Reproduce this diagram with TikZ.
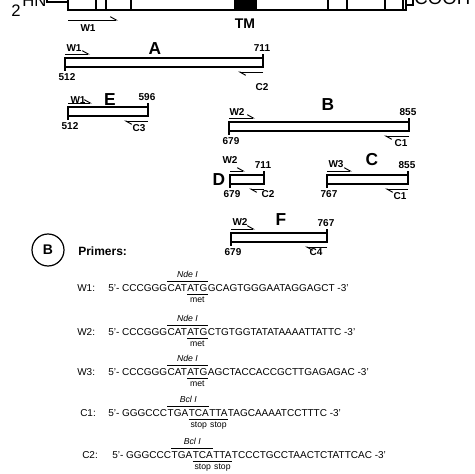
\documentclass[tikz,border=0pt]{standalone}
\usepackage{fontspec}
\setmainfont{Liberation Sans}
\usetikzlibrary{arrows.meta}

\begin{document}
\begin{tikzpicture}[x=0.75pt, y=-0.75pt,
    bar/.style={draw, line width=0.9pt},
    primer/.style={line width=0.7pt, -{Straight Barb[left, length=4.5pt, width=5pt]}},
    num/.style={inner sep=0, font=\fontsize{7.5}{9}\selectfont\bfseries},
    frag/.style={inner sep=0, font=\fontsize{13}{15}\selectfont\bfseries},
    seq/.style={inner sep=0, anchor=base west, font=\fontsize{7.5}{9}\selectfont},
    site/.style={inner sep=0, font=\fontsize{6.5}{8}\selectfont\itshape},
    codon/.style={inner sep=0, font=\fontsize{6.5}{8}\selectfont},
    siteline/.style={line width=0.6pt}]

    % Define the frame
    \useasboundingbox (0,0) rectangle (474,474);
    \clip (0,0) rectangle (474,474);

    % The protein
    \draw[bar] (68,-8) rectangle (406,10);
    \foreach \x in {96,106,131,328,347,385,403}
      \draw[bar] (\x,-8) -- (\x,10);
    \fill (234,-8) rectangle (257,10);
    \draw[bar] (47,-8) rectangle (68,2);
    \draw[bar] (406,-8) rectangle (413,5);

    \node[inner sep=0, anchor=base west, font=\fontsize{12.5}{14}\selectfont] (two) at (11,17) {2};
    \node[inner sep=0, anchor=base west, font=\fontsize{12.5}{14}\selectfont] (nterm) at (22,7) {HN};
    \node[inner sep=0, anchor=base west, font=\fontsize{14}{16}\selectfont] (cterm) at (414,5) {COOH};
    \node[inner sep=0, font=\fontsize{10.5}{12}\selectfont\bfseries] (tm) at (245,24) {TM};

    \coordinate (W1s) at (68,20);
    \coordinate (W1e) at (118,20);
    \draw[primer] (W1s) -- (W1e);
    \node[num] (W1top) at (88,28) {W1};

    % The fragments
    \foreach \f/\xl/\xr/\yt/\lw/\lc/\lo/\hi in {A/65/263/58/25/25/512/711,
        E/68/148/107/24/24/512/596, B/229/409/122/26/25/679/855,
        D/230/264/175/15/15/679/711, C/327/408/175/25/23/767/855,
        F/231/327/233/24/22/679/767}
    {
      \draw[bar] (\xl,\yt) rectangle (\xr,\yt+9);
      \draw[bar] (\xl,\yt+9) -- (\xl,\yt+13);
      \draw[bar] (\xr,\yt) -- (\xr,\yt-4);
      \coordinate (\f-w) at (\xl,\yt-4);
      \coordinate (\f-c) at (\xr,\yt+14);
      \draw[primer] (\f-w) -- ++(\lw,0);
      \draw[primer] (\f-c) -- ++(-\lc,0);
      \node[num] (\f-lo) at (\xl+2,\yt+19) {\lo};
      \node[num] (\f-hi) at (\xr-1,\yt-9.5) {\hi};
    }

    % Label the fragments
    \foreach \f/\x/\y in {A/155/49, E/110/100, B/328/105, D/219/180, C/372/160, F/281/220}
      \node[frag] (frag\f) at (\x,\y) {\f};

    \foreach \nm/\txt/\x/\y in {Aw/W1/74/48, Ac/C2/262/87, Ew/W1/78/100, Ec/C3/139/128,
        Bw/W2/237/112, Bc/C1/401/143, Dw/W2/230/160, Dc/C2/268/194,
        Cw/W3/336/164, Cc/C1/400/196, Fw/W2/240/222, Fc/C4/316/252}
      \node[num] (\nm) at (\x,\y) {\txt};

    % Part B
    \node[circle, draw, line width=0.9pt, minimum size=24pt, inner sep=0,
      font=\fontsize{10.5}{12}\selectfont\bfseries] (partB) at (48,250) {B};
    \node[inner sep=0, anchor=base west, font=\fontsize{9}{11}\selectfont\bfseries] (primers) at (78,255) {Primers:};

    % Forward primers
    \foreach \r/\y/\post in {W1/291.6/GCAGTGGGAATAGGAGCT, W2/335.6/CTGTGGTATATAAAATTATTC,
        W3/375.6/AGCTACCACCGCTTGAGAGAC}
    {
      \node[seq] (\r-name) at (77,\y) {\r:};
      \node[seq] (\r-a) at (108,\y) {5'- CCCGGG};
      \node[seq] (\r-b) at (\r-a.base east) {CAT};
      \node[seq] (\r-c) at (\r-b.base east) {ATG};
      \node[seq] (\r-d) at (\r-c.base east) {\post\ -3'};
      \draw[siteline] ([yshift=2pt]\r-b.north west) -- ([yshift=2pt]\r-c.north east)
        node[site, midway, above=2.5pt] (\r-nde) {Nde I};
      \draw[siteline] ([yshift=-2pt]\r-c.base west) -- ([yshift=-2pt]\r-c.base east)
        node[codon, midway, below=2pt] (\r-met) {met};
    }

    % Reverse primers
    \foreach \r/\x/\s/\y/\post in {C1/80/108/416.6/TAGCAAAATCCTTTC,
        C2/82/112/458.6/TCCCTGCCTAACTCTATTCAC}
    {
      \node[seq] (\r-name) at (\x,\y) {\r:};
      \node[seq] (\r-a) at (\s,\y) {5'- GGGCCC};
      \node[seq] (\r-b) at (\r-a.base east) {TGA};
      \node[seq] (\r-c) at (\r-b.base east) {TCA};
      \node[seq] (\r-d) at (\r-c.base east) {TTA};
      \node[seq] (\r-e) at (\r-d.base east) {\post\ -3'};
      \draw[siteline] ([yshift=2pt]\r-b.north west) -- ([yshift=2pt]\r-c.north east)
        node[site, midway, above=2.5pt] (\r-bcl) {Bcl I};
      \draw[siteline] ([yshift=-2pt]\r-c.base west) -- ([yshift=-2pt]\r-c.base east)
        node[codon, midway, below=2pt] (\r-stop1) {stop};
      \draw[siteline] ([yshift=-2pt]\r-d.base west) -- ([yshift=-2pt]\r-d.base east)
        node[codon, midway, below=2pt] (\r-stop2) {stop};
    }

\end{tikzpicture}
\end{document}
